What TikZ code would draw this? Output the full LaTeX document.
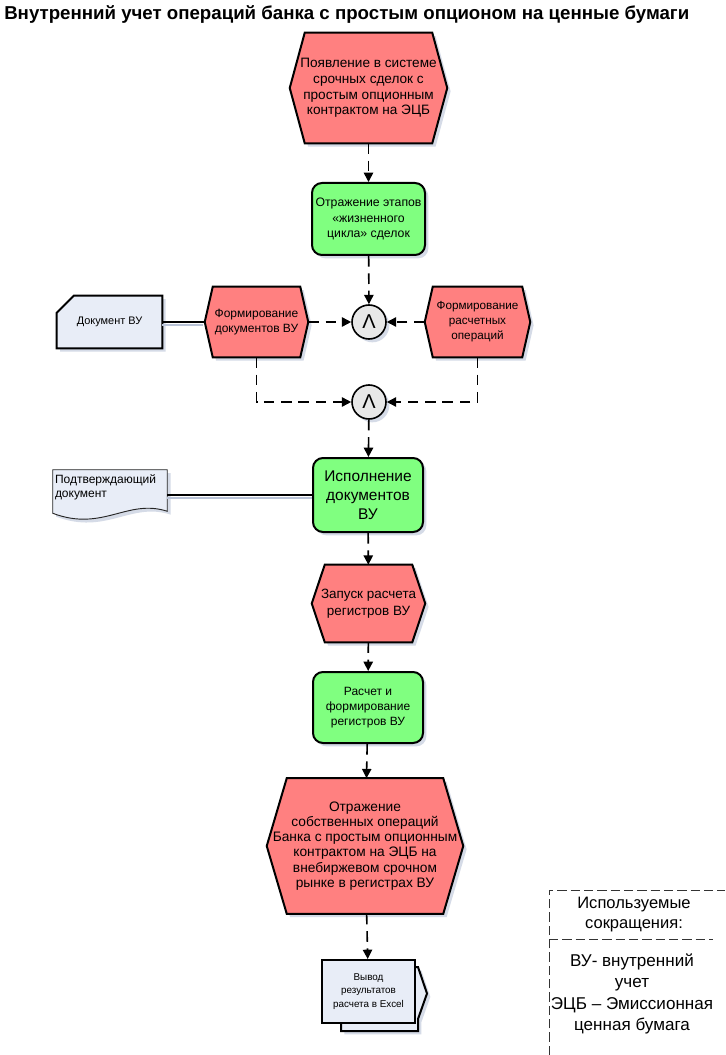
\documentclass[tikz,border=0pt]{standalone}
\usepackage{fontspec}
\setmainfont{Liberation Sans}
\usetikzlibrary{arrows.meta,shadows,calc,backgrounds}
\definecolor{evred}{RGB}{255,128,128}
\definecolor{fngreen}{RGB}{128,255,128}
\definecolor{docblue}{RGB}{232,237,247}
\definecolor{andgray}{RGB}{232,232,232}
\definecolor{shad}{RGB}{185,195,215}
\newcommand{\hexa}[2]{\path[hexstyle] ($(#1.north west)+(#2,0)$) -- ($(#1.north east)+(-#2,0)$) -- (#1.east) -- ($(#1.south east)+(-#2,0)$) -- ($(#1.south west)+(#2,0)$) -- (#1.west) -- cycle;}
\newcommand{\fs}[2]{\fontsize{#1}{#2}\selectfont}
\begin{document}
\begin{tikzpicture}[x=0.75pt,y=-0.75pt,
 wh/.style 2 args={minimum width=#1*0.75pt,minimum height=#2*0.75pt},
 shd/.style={drop shadow={shadow xshift=2.5pt,shadow yshift=-2.5pt,fill=shad,opacity=0.6}},
 evbox/.style={rectangle,inner sep=0pt,align=center,text=black},
 hexstyle/.style={fill=evred,draw=black,line width=1.5pt,line join=miter,shd},
 fnbox/.style={rectangle,rounded corners=7.5pt,draw=black,line width=1.5pt,fill=fngreen,align=center,inner sep=0pt,shd},
 andc/.style={circle,draw=black,line width=1.2pt,fill=andgray,minimum size=25.5pt,inner sep=0pt,shd,font=\fs{15}{15}},
 docstyle/.style={fill=docblue,draw=black,line width=1.5pt,line join=miter,shd},
 conn/.style={line width=1.2pt,dash pattern=on 8pt off 5pt,-{Triangle[length=7pt,width=7pt]}},
 docline/.style={line width=1pt},
 legline/.style={line width=0.6pt,dash pattern=on 7pt off 3pt,draw=black!80}]

\useasboundingbox (0,0) rectangle (725,1055);

\node[anchor=west,inner sep=0pt,font=\bfseries\fs{14}{16}] (title) at (4,14) {Внутренний учет операций банка с простым опционом на ценные бумаги};

\node[evbox,wh={157}{110},font=\fs{10.2}{11.8}] (ev1) at (368.5,88) {Появление в системе\\срочных сделок с\\простым опционным\\контрактом на ЭЦБ};
\node[fnbox,wh={113}{72},font=\fs{9.2}{11.6}] (fn1) at (368.5,219) {Отражение этапов\\«жизненного\\цикла» сделок};
\node[andc] (and1) at (369,322) {Λ};
\node[evbox,wh={103}{70},font=\fs{9}{11.3}] (evFD) at (256.5,322) {Формирование\\документов ВУ};
\node[evbox,wh={105}{70},font=\fs{8.8}{11.2}] (evFR) at (477.5,322) {Формирование\\расчетных\\операций};
\node[evbox,wh={105}{52},font=\fs{8.2}{10}] (docVU) at (109.5,322) {Документ ВУ};
\node[andc] (and2) at (369,402) {Λ};
\node[fnbox,wh={110}{74},font=\fs{11.6}{14.3}] (fn2) at (368,495) {Исполнение\\документов\\ВУ};
\node[evbox,wh={114}{50}] (podt) at (110,495) {};
\node[anchor=north west,align=left,inner sep=0pt,font=\fs{9}{10}] (podtxt) at ($(podt.north west)+(2,5)$) {Подтверждающий\\документ};
\node[evbox,wh={113}{77},font=\fs{10.1}{12.5}] (ev3) at (368.5,603.5) {Запуск расчета\\регистров ВУ};
\node[fnbox,wh={110}{71},font=\fs{9}{11}] (fn3) at (368,707.5) {Расчет и\\формирование\\регистров ВУ};
\node[evbox,wh={196}{135},font=\fs{10.3}{11.4}] (ev4) at (365,846) {Отражение\\собственных операций\\Банка с простым опционным\\контрактом на ЭЦБ на\\внебиржевом срочном\\рынке в регистрах ВУ};
\node[rectangle,draw=black,fill=docblue,line width=1.5pt,inner sep=0pt,align=center,wh={93}{63},font=\fs{7.4}{10}] (out) at (368.5,991.5) {Вывод\\результатов\\расчета в Excel};

\begin{pgfonlayer}{background}
\fill[white] (0,0) rectangle (725,1055);
\hexa{ev1}{15}
\hexa{evFD}{8}
\hexa{evFR}{8}
\hexa{ev3}{13}
\hexa{ev4}{20}
\path[docstyle] ($(docVU.north west)+(17,0)$) -- (docVU.north east) -- (docVU.south east) -- (docVU.south west) -- ($(docVU.north west)+(0,17)$) -- cycle;
\path[fill=docblue,draw=black!85,line width=0.7pt,shd] (podt.north west) -- (podt.north east) -- ($(podt.south east)+(0,-9)$) .. controls ($(podt.south east)+(-40,-22)$) and ($(podt.south west)+(50,12)$) .. ($(podt.south west)+(0,-7)$) -- cycle;
\path[docstyle] ($(out.north west)+(20,8)$) -- ($(out.north east)+(2,8)$) -- ($(out.east)+(11,2)$) -- ($(out.south east)+(2,-5)$) -- ($(out.south east)+(2,7)$) -- ($(out.south west)+(20,7)$) -- cycle;
\draw[shad,line width=1pt] ($(docVU.east)+(0,3)$) -- ($(evFD.west)+(-2,3)$);
\draw[shad,line width=1pt] ($(podt.east)+(0,3)$) -- ($(fn2.west)+(0,3)$);
\end{pgfonlayer}

\draw[docline] (docVU) -- (evFD);
\draw[docline] (podt) -- (fn2);

\draw[conn] (ev1) -- (fn1);
\draw[conn] (fn1) -- (and1);
\draw[conn] (evFD) -- (and1);
\draw[conn] (evFR) -- (and1);
\draw[conn] (evFD.south) |- (and2);
\draw[conn] (evFR.south) |- (and2);
\draw[conn] (and2) -- (fn2);
\draw[conn] (fn2) -- (ev3);
\draw[conn] (ev3) -- (fn3);
\draw[conn] (fn3) -- (ev4);
\draw[conn] (ev4) -- (out);

\draw[legline] (549,1055) -- (549,890) -- (725,890);
\draw[legline] (549,939) -- (713,939);
\node[align=center,inner sep=0pt,font=\fs{12.4}{15}] (leg1) at (634,915) {Используемые\\сокращения:};
\node[align=center,inner sep=0pt,font=\fs{12.8}{16.2}] (leg2) at (632,994) {ВУ- внутренний\\учет\\ЭЦБ – Эмиссионная\\ценная бумага};
\end{tikzpicture}
\end{document}
